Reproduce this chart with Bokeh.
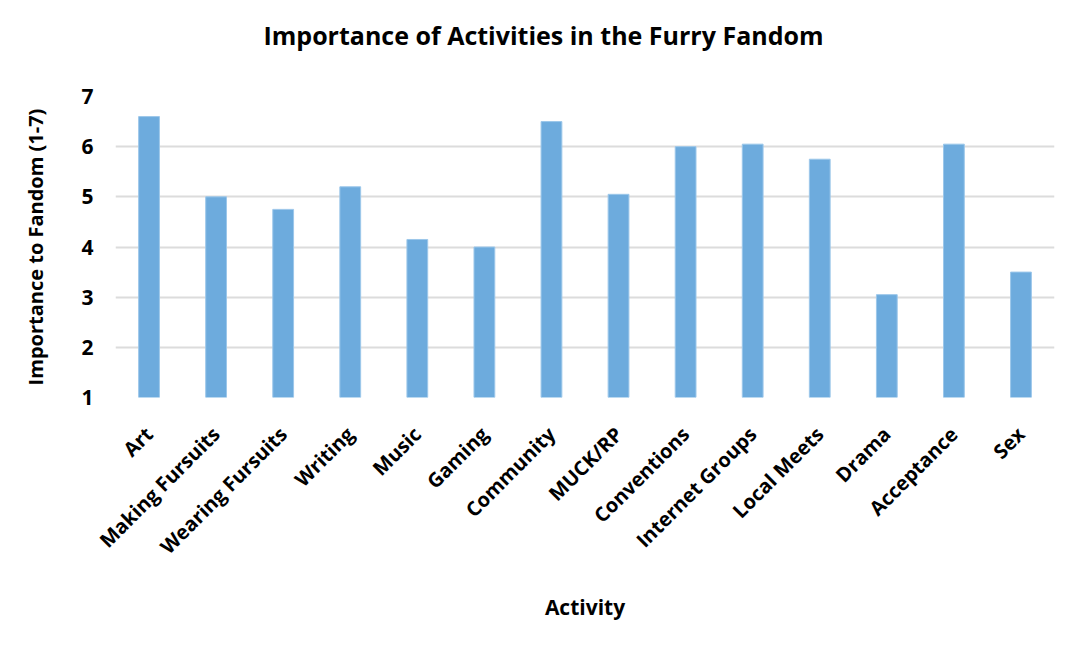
import math
from bokeh.plotting import figure
from bokeh.models import ColumnDataSource, Range1d, FixedTicker, Title
from bokeh.embed import file_html
from bokeh.resources import INLINE

categories = ["Art", "Making Fursuits", "Wearing Fursuits", "Writing", "Music",
              "Gaming", "Community", "MUCK/RP", "Conventions", "Internet Groups",
              "Local Meets", "Drama", "Acceptance", "Sex"]
values = [6.6, 5.0, 4.75, 5.2, 4.15, 4.0, 6.5, 5.05, 6.0, 6.05, 5.75, 3.05, 6.05, 3.5]
y_ticks = [1, 2, 3, 4, 5, 6, 7]
title_text = "Importance of Activities in the Furry Fandom"

FONT = "Open Sans"
BAR = "#6dabdd"

src = ColumnDataSource(dict(cat=categories, val=values, base=[1] * len(values)))

p = figure(width=1080, height=647, x_range=categories, y_range=Range1d(1, 7),
           output_backend="svg", toolbar_location=None,
           min_border_left=115, min_border_right=26, min_border_top=96,
           min_border_bottom=250)

p.vbar(x="cat", top="val", bottom="base", width=0.31, source=src,
       fill_color=BAR, line_color="#9cc7ea", line_width=1)

p.title = Title(text=title_text, align="left", offset=148,
                text_font=FONT, text_font_size="25px", text_font_style="bold",
                text_color="#000000", standoff=10)
# empty spacer between the title and the plotting area
p.add_layout(Title(text=" ", text_font_size="1px", standoff=37), "above")

p.outline_line_color = None
p.background_fill_color = "white"
p.border_fill_color = "white"

p.xgrid.grid_line_color = None
p.ygrid.ticker = FixedTicker(ticks=y_ticks)
p.ygrid.grid_line_color = "#dcdcdc"
p.ygrid.grid_line_width = 2

p.yaxis.ticker = FixedTicker(ticks=y_ticks)
p.yaxis.axis_line_color = None
p.yaxis.major_tick_line_color = None
p.yaxis.minor_tick_line_color = None
p.yaxis.major_label_text_font = FONT
p.yaxis.major_label_text_font_style = "bold"
p.yaxis.major_label_text_font_size = "21px"
p.yaxis.major_label_text_color = "#000000"
p.yaxis.major_label_standoff = 16
p.yaxis.axis_label = "Importance to Fandom (1-7)"
p.yaxis.axis_label_text_font = FONT
p.yaxis.axis_label_text_font_style = "bold"
p.yaxis.axis_label_text_font_size = "20px"
p.yaxis.axis_label_text_color = "#000000"
p.yaxis.axis_label_standoff = 29

p.xaxis.axis_line_color = None
p.xaxis.major_tick_line_color = None
p.xaxis.minor_tick_line_color = None
p.xaxis.major_label_orientation = math.pi / 4
p.xaxis.major_label_text_font = FONT
p.xaxis.major_label_text_font_style = "bold"
p.xaxis.major_label_text_font_size = "20px"
p.xaxis.major_label_text_color = "#000000"
p.xaxis.major_label_standoff = 27
p.xaxis.axis_label = "Activity"
p.xaxis.axis_label_text_font = FONT
p.xaxis.axis_label_text_font_style = "bold"
p.xaxis.axis_label_text_font_size = "21px"
p.xaxis.axis_label_text_color = "#000000"
p.xaxis.axis_label_standoff = 21

open("out.html", "w").write(file_html(p, INLINE))
